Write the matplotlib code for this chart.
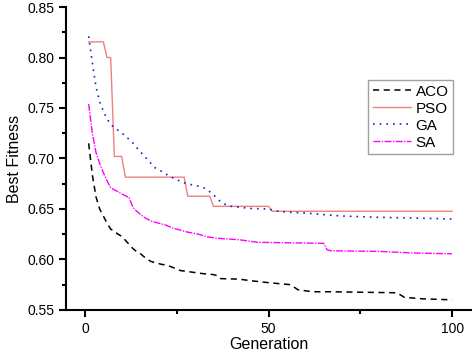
import matplotlib
matplotlib.use("Agg")
import matplotlib.pyplot as plt
from matplotlib.ticker import MultipleLocator

plt.rcParams['font.family'] = ['Liberation Sans', 'DejaVu Sans']

aco_gen = [1, 2, 3, 4, 5, 6, 7, 8, 9, 10, 11, 12, 13, 14, 15, 16, 17, 18, 19, 20, 21, 22, 24, 26, 28, 30, 32, 35, 36, 37, 42, 45, 50, 56, 58, 62, 67, 85, 87, 92, 100]
aco_val = [0.715, 0.684, 0.662, 0.650, 0.643, 0.636, 0.630, 0.628, 0.625, 0.623, 0.619, 0.615, 0.611, 0.608, 0.606, 0.603, 0.600, 0.598, 0.597, 0.596, 0.595, 0.5947, 0.592, 0.589, 0.588, 0.587, 0.586, 0.585, 0.584, 0.581, 0.5805, 0.579, 0.577, 0.575, 0.570, 0.568, 0.568, 0.567, 0.5625, 0.561, 0.560]

pso_gen = [1, 5, 6, 7, 8, 10, 11, 27, 28, 34, 35, 50, 51, 100]
pso_val = [0.8155, 0.8155, 0.800, 0.800, 0.702, 0.702, 0.6815, 0.6815, 0.6626, 0.6626, 0.6526, 0.6526, 0.6477, 0.6477]

ga_gen = [1, 2, 3, 4, 5, 6, 7, 8, 9, 10, 11, 12, 13, 14, 16, 19, 21, 23, 25, 27, 29, 31, 33, 35, 37, 39, 45, 50, 52, 55, 60, 65, 70, 80, 90, 100]
ga_val = [0.821, 0.795, 0.771, 0.756, 0.747, 0.739, 0.734, 0.7305, 0.728, 0.7255, 0.722, 0.719, 0.7156, 0.711, 0.703, 0.691, 0.687, 0.6824, 0.679, 0.676, 0.674, 0.6725, 0.670, 0.664, 0.657, 0.653, 0.6505, 0.650, 0.648, 0.647, 0.646, 0.6444, 0.643, 0.6417, 0.641, 0.640]

sa_gen = [1, 2, 3, 4, 5, 6, 7, 8, 9, 10, 11, 12, 13, 14, 15, 16, 17, 18, 20, 22, 24, 26, 28, 31, 33, 36, 42, 47, 55, 65, 66, 67, 80, 90, 100]
sa_val = [0.754, 0.725, 0.706, 0.695, 0.686, 0.678, 0.671, 0.669, 0.667, 0.665, 0.663, 0.6615, 0.652, 0.648, 0.645, 0.642, 0.640, 0.638, 0.636, 0.634, 0.631, 0.629, 0.627, 0.625, 0.6225, 0.621, 0.6195, 0.617, 0.6165, 0.616, 0.6095, 0.6086, 0.608, 0.6063, 0.6056]

fig = plt.figure(figsize=(4.74, 3.51), dpi=100)
ax = fig.add_axes([0.139, 0.117, 0.855, 0.863])

ax.plot(aco_gen, aco_val, color='black', linestyle=(0, (4, 3)), linewidth=1.1, label='ACO')
ax.plot(pso_gen, pso_val, color='#F08080', linestyle='-', linewidth=1.0, label='PSO')
ax.plot(ga_gen, ga_val, color='#2020C0', linestyle=(0, (1, 3)), linewidth=1.2, label='GA')
ax.plot(sa_gen, sa_val, color='#FF00FF', linestyle=(0, (5, 1, 1, 1)), linewidth=1.0, label='SA')

ax.set_xlim(-5.2, 105.2)
ax.set_ylim(0.55, 0.85)
ax.xaxis.set_major_locator(MultipleLocator(50))
ax.xaxis.set_minor_locator(MultipleLocator(25))
ax.yaxis.set_major_locator(MultipleLocator(0.05))
ax.yaxis.set_minor_locator(MultipleLocator(0.025))
ax.yaxis.set_major_formatter(plt.FuncFormatter(lambda v, p: f"{v:.2f}"))

for s in ['top', 'right']:
    ax.spines[s].set_visible(False)
for s in ['left', 'bottom']:
    ax.spines[s].set_linewidth(1.5)

ax.tick_params(which='major', direction='out', length=5, width=1.5, labelsize=10)
ax.tick_params(which='minor', direction='out', length=3, width=1.5)

ax.set_xlabel('Generation', fontsize=11.5, labelpad=1)
ax.set_ylabel('Best Fitness', fontsize=11.5, labelpad=4)

leg = ax.legend(loc='upper right', bbox_to_anchor=(0.956, 0.759), fontsize=11,
                frameon=True, fancybox=False, edgecolor='#888888',
                handlelength=2.5, handletextpad=0.3, borderpad=0.3, labelspacing=0.2,
                borderaxespad=0.0)
leg.get_frame().set_linewidth(1.0)

fig.savefig('out.png', dpi=100)
